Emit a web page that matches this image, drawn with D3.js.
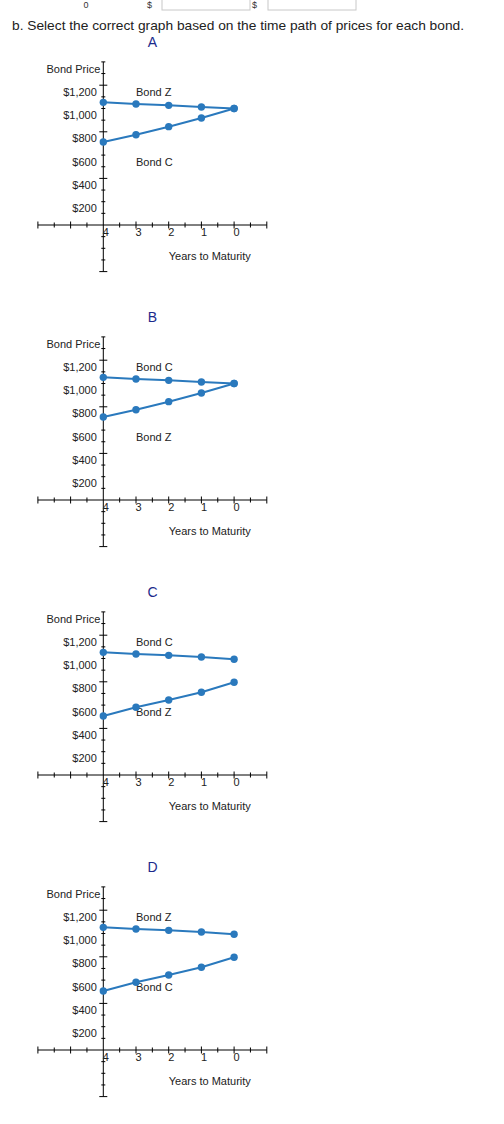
<!DOCTYPE html>
<head>
<meta charset="utf-8">
<title>Bond price time paths</title>
<style>
    body { margin:0; background:#fff; }
    svg { display:block; }
    text { font-family: "Liberation Sans", Arial, sans-serif; }
</style>
</head>

<body>
<svg width="504" height="1124"></svg>

<script src="https://cdnjs.cloudflare.com/ajax/libs/d3/7.8.5/d3.min.js"></script>
<script>
var years = [4, 3, 2, 1, 0];
var premiumPrices = [1053, 1039, 1027, 1013, 1000];
var discountPrices = [712, 775, 844, 918, 1000];
var premiumPricesCD = [1053, 1039, 1027, 1013, 993];
var lowPrices = [506, 581, 644, 710, 796];

var panelNames = ["A", "B", "C", "D"];
var topLabels = ["Bond Z", "Bond C", "Bond C", "Bond Z"];
var bottomLabels = ["Bond C", "Bond Z", "Bond Z", "Bond C"];
var topSeries = [premiumPrices, premiumPrices, premiumPricesCD, premiumPricesCD];
var bottomSeries = [discountPrices, discountPrices, lowPrices, lowPrices];

var yTickValues = [1200, 1000, 800, 600, 400, 200];
var yTickLabels = ["$1,200", "$1,000", "$800", "$600", "$400", "$200"];
var xTickValues = [4, 3, 2, 1, 0];
var xTickLabels = ["4", "3", "2", "1", "0"];

var blue = "#2a79bd";
var svg = d3.select("svg");

// leftover answer row at the very top
svg.append("text").attr("x", 86).attr("y", 8).attr("text-anchor", "middle")
    .attr("font-size", 9).attr("fill", "#333").text("0");
[149.5, 254.5].forEach(function(x) {
  svg.append("text").attr("x", x).attr("y", 8).attr("text-anchor", "middle")
      .attr("font-size", 9).attr("fill", "#333").text("$");
});
[[162, 250], [268, 356]].forEach(function(b) {
  svg.append("rect").attr("x", b[0]).attr("y", -10).attr("width", b[1] - b[0]).attr("height", 20)
      .attr("fill", "none").attr("stroke", "#c8c8c8").attr("stroke-width", 1);
});

svg.append("text")
    .attr("x", 12).attr("y", 30)
    .attr("font-size", 13).attr("fill", "#222")
    .attr("textLength", 452).attr("lengthAdjust", "spacingAndGlyphs")
    .text("b. Select the correct graph based on the time path of prices for each bond.");

var x = d3.scaleLinear().domain([6, -1]).range([37.9, 266.8]);

panelNames.forEach(function(name, i) {
  var axisY = 225 + i * 275;
  var y = d3.scaleLinear().domain([-400, 1400]).range([axisY + 46.6, axisY - 163.1]);
  var g = svg.append("g");
  var x0 = x(4);

  g.append("text")
      .attr("x", 152.5).attr("y", axisY - 178.5)
      .attr("text-anchor", "middle").attr("font-size", 14)
      .attr("fill", "#1b2a8c").text(name);

  g.append("line").attr("x1", x(6)).attr("x2", x(-1)).attr("y1", axisY).attr("y2", axisY)
      .attr("stroke", "#000").attr("stroke-width", 1);
  g.append("line").attr("x1", x0).attr("x2", x0).attr("y1", y(1400)).attr("y2", y(-400))
      .attr("stroke", "#000").attr("stroke-width", 1);

  // y ticks every 100, bigger every 400
  d3.range(-400, 1401, 100).forEach(function(v) {
    if (v === 0) return;
    var len = (v % 400 === 0) ? 4 : 2;
    g.append("line").attr("x1", x0 - len).attr("x2", x0 + len)
        .attr("y1", y(v)).attr("y2", y(v)).attr("stroke", "#000");
  });
  // x ticks every half year
  d3.range(-1, 6.01, 0.5).forEach(function(v) {
    if (v === 4) return;
    var len = (v % 1 === 0) ? 3.5 : 2.5;
    g.append("line").attr("x1", x(v)).attr("x2", x(v))
        .attr("y1", axisY - len).attr("y2", axisY + len).attr("stroke", "#000");
  });

  g.append("text")
      .attr("x", x0 - 3).attr("y", y(1400) + 11)
      .attr("text-anchor", "end").attr("font-size", 11).attr("fill", "#222")
      .text("Bond Price");

  g.selectAll(".ylab").data(yTickValues).enter().append("text")
      .attr("x", x0 - 6.5).attr("y", function(d) { return y(d) + 10.5; })
      .attr("text-anchor", "end").attr("font-size", 11).attr("fill", "#222")
      .text(function(d, j) { return yTickLabels[j]; });

  g.selectAll(".xlab").data(xTickValues).enter().append("text")
      .attr("x", function(d) { return x(d) - 0.5; }).attr("y", axisY + 10.5)
      .attr("font-size", 11).attr("fill", "#222")
      .text(function(d, j) { return xTickLabels[j]; });

  g.append("text")
      .attr("x", x(2)).attr("y", axisY + 35)
      .attr("font-size", 11).attr("fill", "#222")
      .text("Years to Maturity");

  g.append("text").attr("x", x(3)).attr("y", y(1200) + 10.5)
      .attr("font-size", 11).attr("fill", "#222").text(topLabels[i]);
  g.append("text").attr("x", x(3)).attr("y", y(600) + 10.5)
      .attr("font-size", 11).attr("fill", "#222").text(bottomLabels[i]);

  var line = d3.line()
      .x(function(d, j) { return x(years[j]); })
      .y(function(d) { return y(d); });

  [topSeries[i], bottomSeries[i]].forEach(function(s) {
    g.append("path").datum(s).attr("d", line)
        .attr("fill", "none").attr("stroke", blue).attr("stroke-width", 2);
    g.selectAll(null).data(s).enter().append("circle")
        .attr("cx", function(d, j) { return x(years[j]); })
        .attr("cy", function(d) { return y(d); })
        .attr("r", 3.7).attr("fill", blue);
  });
});
</script>
</body>
